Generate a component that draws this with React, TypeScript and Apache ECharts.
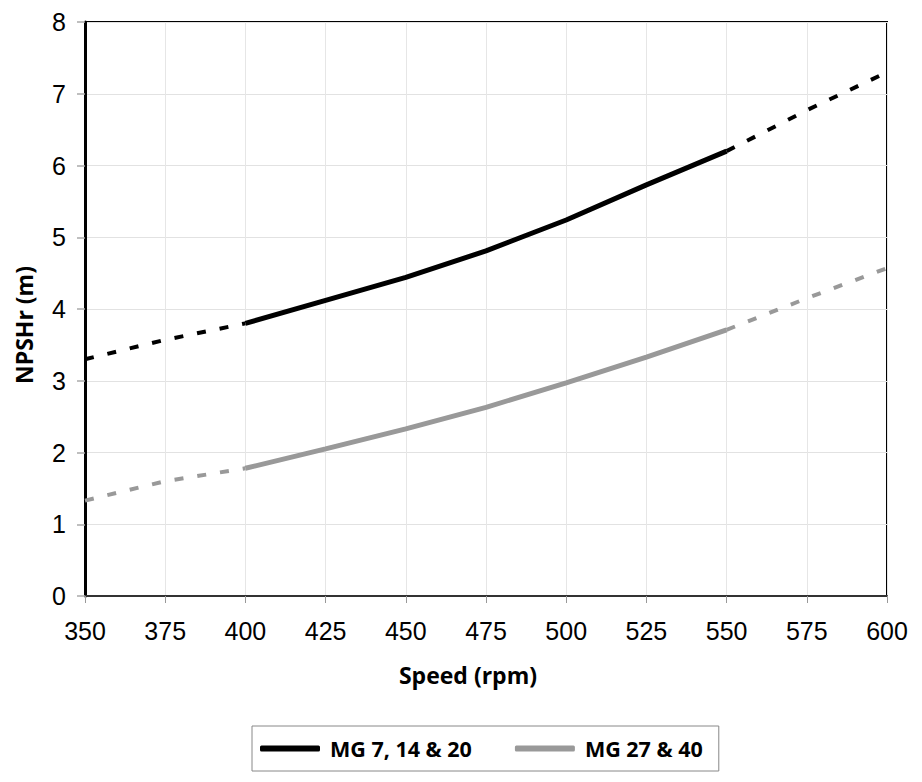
import React, { useEffect, useRef } from "react";
import * as echarts from "echarts";

const speeds = [350, 375, 400, 425, 450, 475, 500, 525, 550, 575, 600];
// MG 7, 14 & 20
const mg7Solid = [null, null, 3.8, 4.12, 4.44, 4.81, 5.24, 5.73, 6.2, null, null];
const mg7DashLow = [3.3, 3.57, 3.8, null, null, null, null, null, null, null, null];
const mg7DashHigh = [null, null, null, null, null, null, null, null, 6.2, 6.77, 7.3];
// MG 27 & 40
const mg27Solid = [null, null, 1.78, 2.05, 2.33, 2.63, 2.97, 3.33, 3.71, null, null];
const mg27DashLow = [1.33, 1.6, 1.78, null, null, null, null, null, null, null, null];
const mg27DashHigh = [null, null, null, null, null, null, null, null, 3.71, 4.15, 4.57];

const seriesNames = ["MG 7, 14 & 20", "MG 27 & 40"];

const pairs = (vals: (number | null)[]) =>
  speeds.map((s, i) => [s, vals[i] === null ? "-" : vals[i]]);

export default function App() {
  const ref = useRef<HTMLDivElement>(null);
  useEffect(() => {
    const chart = echarts.init(ref.current!, null, { renderer: "svg" });
    const dash = [9, 14];
    const mk = (name: string, vals: (number | null)[], color: string, solid: boolean) => ({
      name,
      type: "line",
      data: pairs(vals),
      symbol: "none",
      connectNulls: false,
      lineStyle: { color, width: solid ? 5 : 4, type: solid ? "solid" : dash, cap: "butt" },
      itemStyle: { color },
      z: solid ? 3 : 2,
    });
    chart.setOption({
      animation: false,
      backgroundColor: "#fff",
      grid: {
        left: 85,
        right: 35,
        top: 22,
        bottom: 186,
        show: true,
        borderColor: "#000",
        borderWidth: 2,
      },
      xAxis: {
        type: "value",
        min: 350,
        max: 600,
        interval: 25,
        axisLine: { show: true, onZero: false, lineStyle: { color: "#333", width: 2 } },
        axisTick: { show: true, length: 7, lineStyle: { color: "#999" } },
        axisLabel: { fontFamily: "Liberation Sans", fontSize: 25, color: "#000", margin: 22 },
        splitLine: { show: true, lineStyle: { color: "#e6e6e6", width: 1 } },
      },
      yAxis: {
        type: "value",
        min: 0,
        max: 8,
        interval: 1,
        axisLine: { show: true, lineStyle: { color: "#000", width: 3 } },
        axisTick: { show: true, length: 8, lineStyle: { color: "#aaa", width: 1.5 } },
        axisLabel: { fontFamily: "Liberation Sans", fontSize: 25, color: "#000", margin: 19 },
        splitLine: { show: true, lineStyle: { color: "#e2e2e2", width: 1 } },
      },
      legend: {
        data: seriesNames,
        left: 252,
        top: 726,
        padding: [9, 16, 9, 8],
        itemGap: 43,
        itemWidth: 60,
        itemHeight: 6,
        icon: "roundRect",
        borderColor: "#888",
        borderWidth: 1,
        textStyle: {
          fontFamily: "Open Sans",
          fontWeight: "bold",
          fontSize: 21.5,
          lineHeight: 27,
          color: "#000",
          padding: [0, 0, 0, 5],
        },
      },
      graphic: [
        {
          type: "text",
          x: 468,
          y: 675,
          style: {
            text: "Speed (rpm)",
            fontFamily: "Open Sans",
            fontWeight: "bold",
            fontSize: 23,
            fill: "#000",
            align: "center",
            verticalAlign: "middle",
          },
        },
        {
          type: "text",
          x: 24,
          y: 325,
          rotation: Math.PI / 2,
          style: {
            text: "NPSHr (m)",
            fontFamily: "Open Sans",
            fontWeight: "bold",
            fontSize: 23,
            fill: "#000",
            align: "center",
            verticalAlign: "middle",
          },
        },
      ],
      series: [
        mk(seriesNames[0], mg7Solid, "#000000", true),
        mk(seriesNames[1], mg27Solid, "#999999", true),
        mk("mg7-low", mg7DashLow, "#000000", false),
        mk("mg7-high", mg7DashHigh, "#000000", false),
        mk("mg27-low", mg27DashLow, "#999999", false),
        mk("mg27-high", mg27DashHigh, "#999999", false),
      ],
    });
    return () => chart.dispose();
  }, []);
  return <div ref={ref} style={{ width: 922, height: 782, position: "absolute", left: 0, top: 0 }} />;
}
